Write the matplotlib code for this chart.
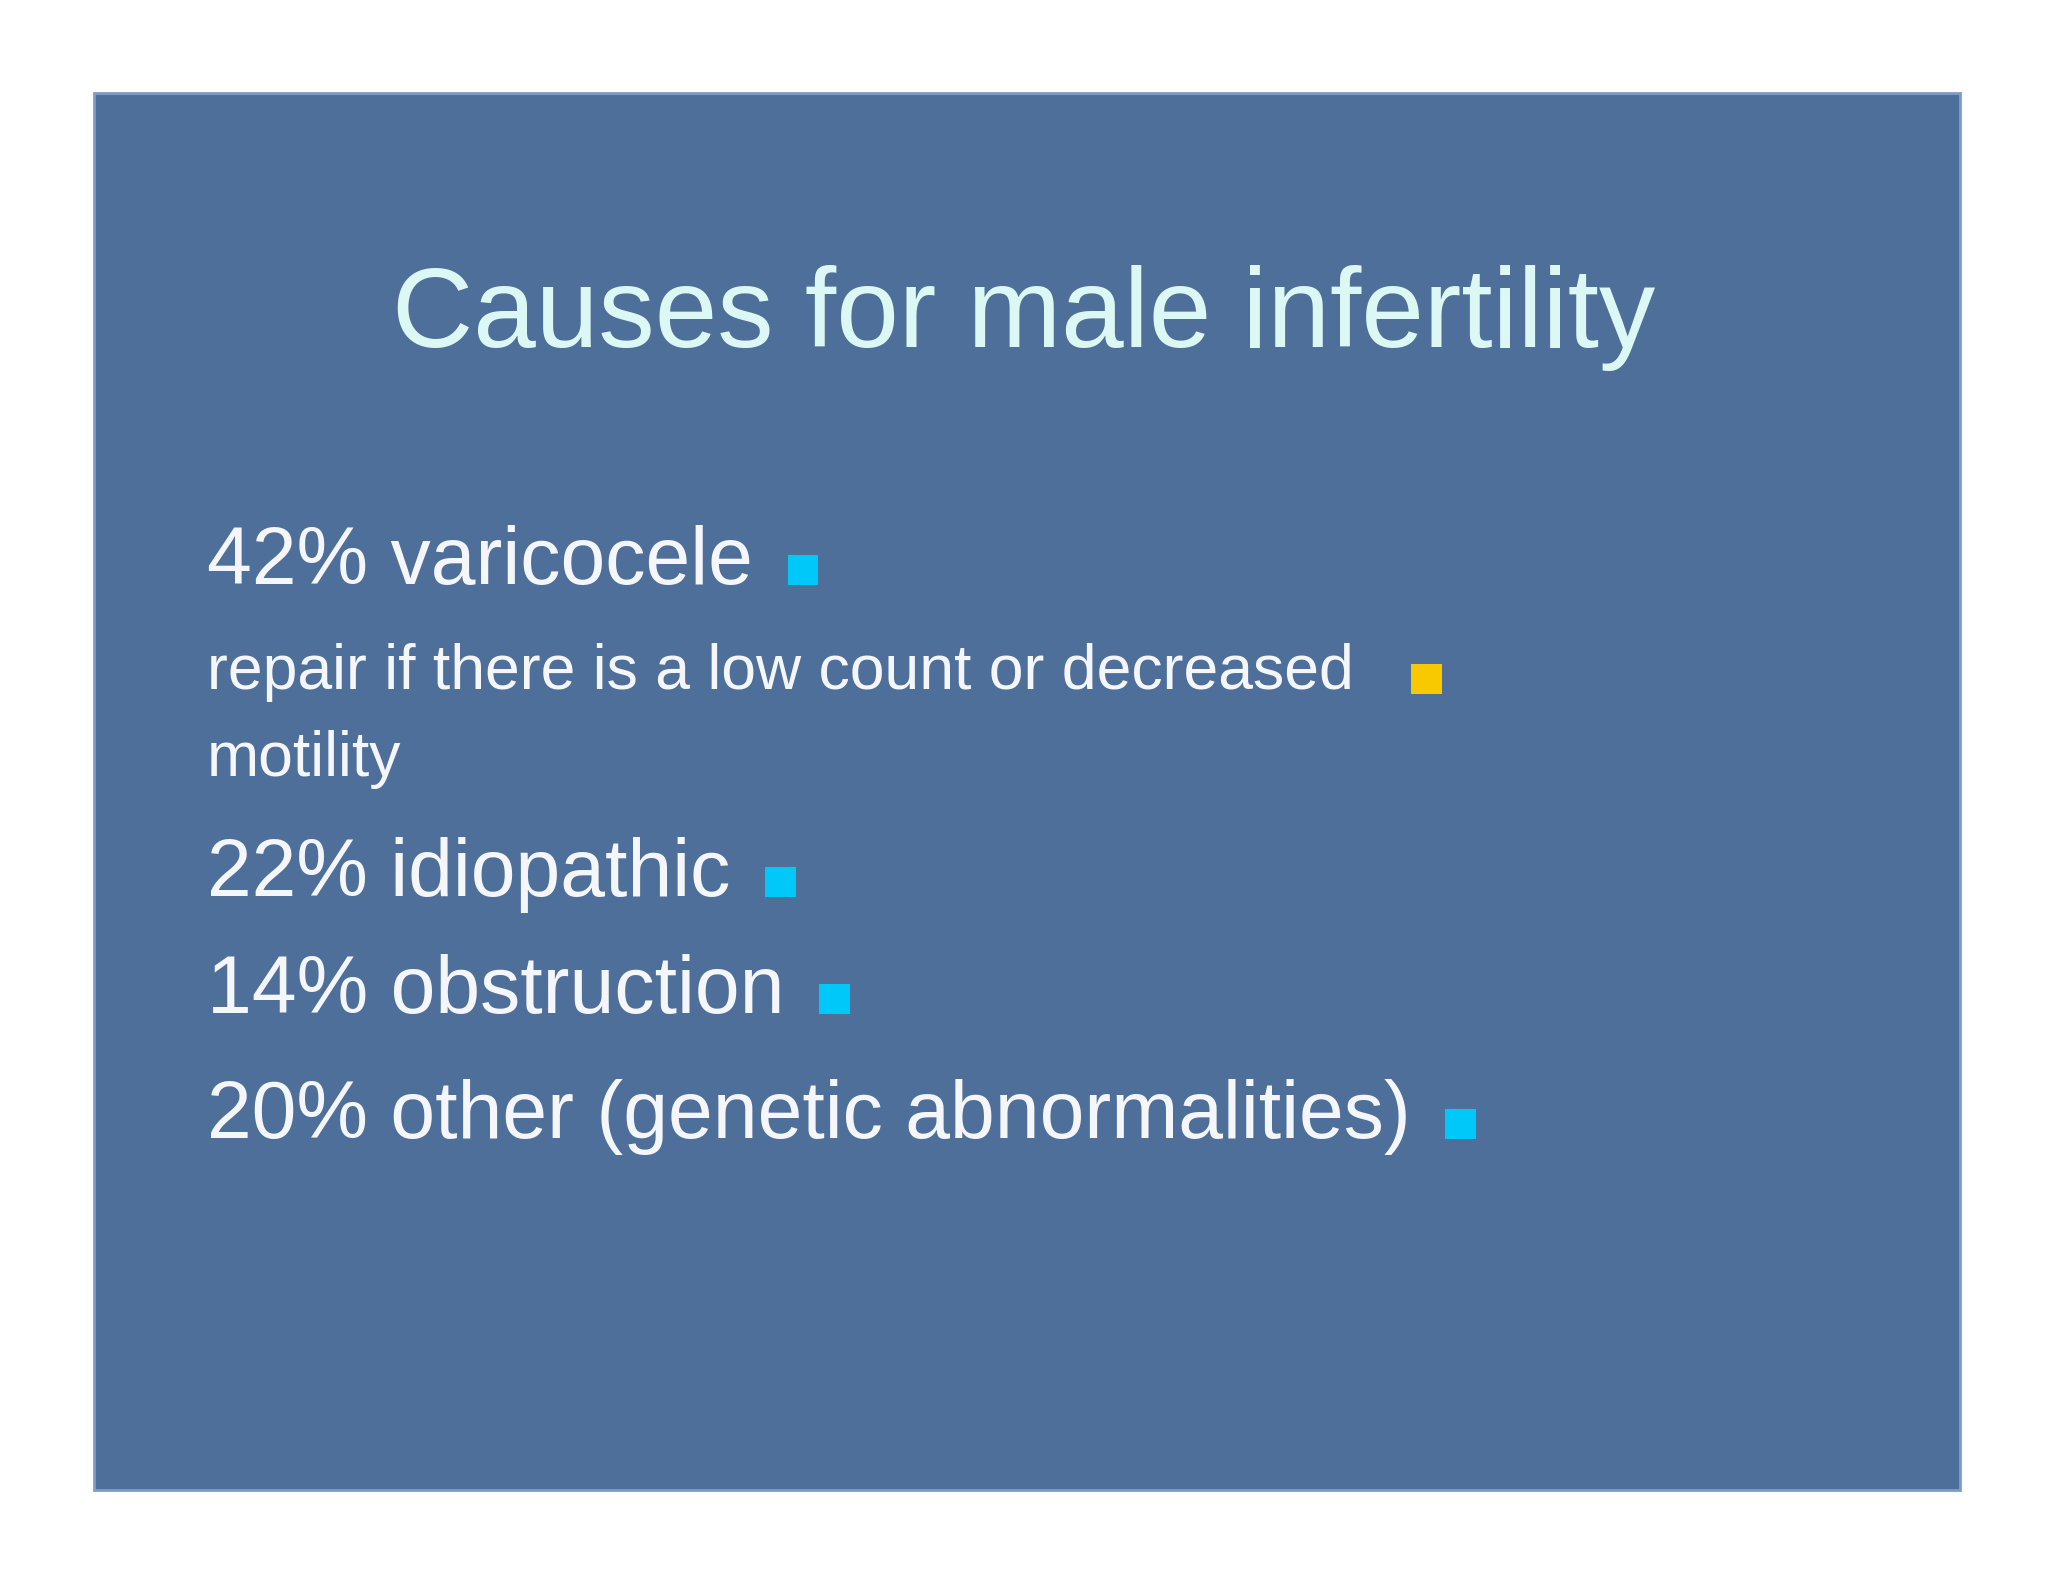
import matplotlib.pyplot as plt
from matplotlib.patches import Rectangle

# slide content
title = "Causes for male infertility"
bullet_texts = [
    "42% varicocele",
    "repair if there is a low count or decreased",
    "motility",
    "22% idiopathic",
    "14% obstruction",
    "20% other (genetic abnormalities)",
]
bullet_sizes = [58, 45, 45, 58, 58, 58]
bullet_y = [0.356, 0.425, 0.480, 0.553, 0.627, 0.706]
marker_colors = ["#00c8f8", "#f8c800", None, "#00c8f8", "#00c8f8", "#00c8f8"]
marker_gap = [0.017, 0.028, 0, 0.017, 0.017, 0.017]

FONT = ["Liberation Sans", "DejaVu Sans"]

fig = plt.figure(figsize=(20.48, 15.82), dpi=100)
fig.patch.set_facecolor("white")
ax = fig.add_axes([0, 0, 1, 1])
ax.set_xlim(0, 1)
ax.set_ylim(1, 0)
ax.axis("off")

# slide background
ax.add_patch(Rectangle((0.046, 0.059), 0.911, 0.883, facecolor="#4e6f99",
                       edgecolor="#7f9cc4", linewidth=2))

ax.text(0.5, 0.201, title, ha="center", va="center", fontsize=81,
        color="#dcf8f4", family=FONT)

fig.canvas.draw()
renderer = fig.canvas.get_renderer()
inv = ax.transData.inverted()
for txt, size, y, col, gap in zip(bullet_texts, bullet_sizes, bullet_y,
                                  marker_colors, marker_gap):
    t = ax.text(0.101, y, txt, ha="left", va="center", fontsize=size,
                color="#f4f6fa", family=FONT)
    if col is None:
        continue
    bb = t.get_window_extent(renderer=renderer)
    x_end = inv.transform((bb.x1, bb.y0))[0]
    ax.add_patch(Rectangle((x_end + gap, y - 0.005), 0.015, 0.019,
                           facecolor=col, edgecolor="none"))

fig.savefig("out.png", dpi=100)
